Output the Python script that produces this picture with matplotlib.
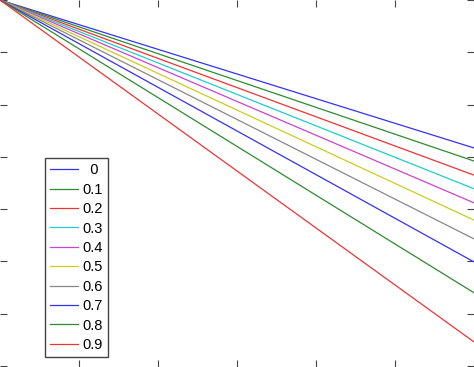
import matplotlib
matplotlib.use('Agg')
import matplotlib.pyplot as plt

# line end values at x = 6 (all lines start at the origin)
labels = ['  0', '0.1', '0.2', '0.3', '0.4', '0.5', '0.6', '0.7', '0.8', '0.9']
x_vals = [0, 6]
end_vals = [-2.83, -3.08, -3.35, -3.61, -3.88, -4.21, -4.57, -5.01, -5.60, -6.54]
colors = ['#3333ee', '#2e8b2e', '#ee3333', '#22cccc', '#cc44cc',
          '#cccc22', '#888888', '#3333ee', '#2e8b2e', '#ee3333']

plt.rcParams['font.family'] = ['Liberation Sans', 'DejaVu Sans']

fig = plt.figure(figsize=(4.74, 3.67), dpi=100)
ax = fig.add_axes([0, 0, 1, 1])

for lab, end, col in zip(labels, end_vals, colors):
    ax.plot(x_vals, [0, end], color=col, lw=0.9, label=lab)

ax.set_xlim(0, 6)
ax.set_ylim(-7.02, 0)
ax.set_xticks(range(1, 7))
ax.set_yticks(range(-7, 1))
ax.tick_params(direction='in', length=5, width=0.8, color='#444444',
               top=True, right=True, labelbottom=False, labelleft=False)
for s in ax.spines.values():
    s.set_visible(False)

leg = ax.legend(loc='lower left', bbox_to_anchor=(45 / 474, 10 / 367),
                borderaxespad=0, fontsize=10.5, handlelength=1.9,
                handletextpad=0.3, labelspacing=0.37, borderpad=0.35,
                fancybox=False, framealpha=1)
leg.get_frame().set_edgecolor('#444444')
leg.get_frame().set_linewidth(1)

fig.savefig('out.png', dpi=100)
